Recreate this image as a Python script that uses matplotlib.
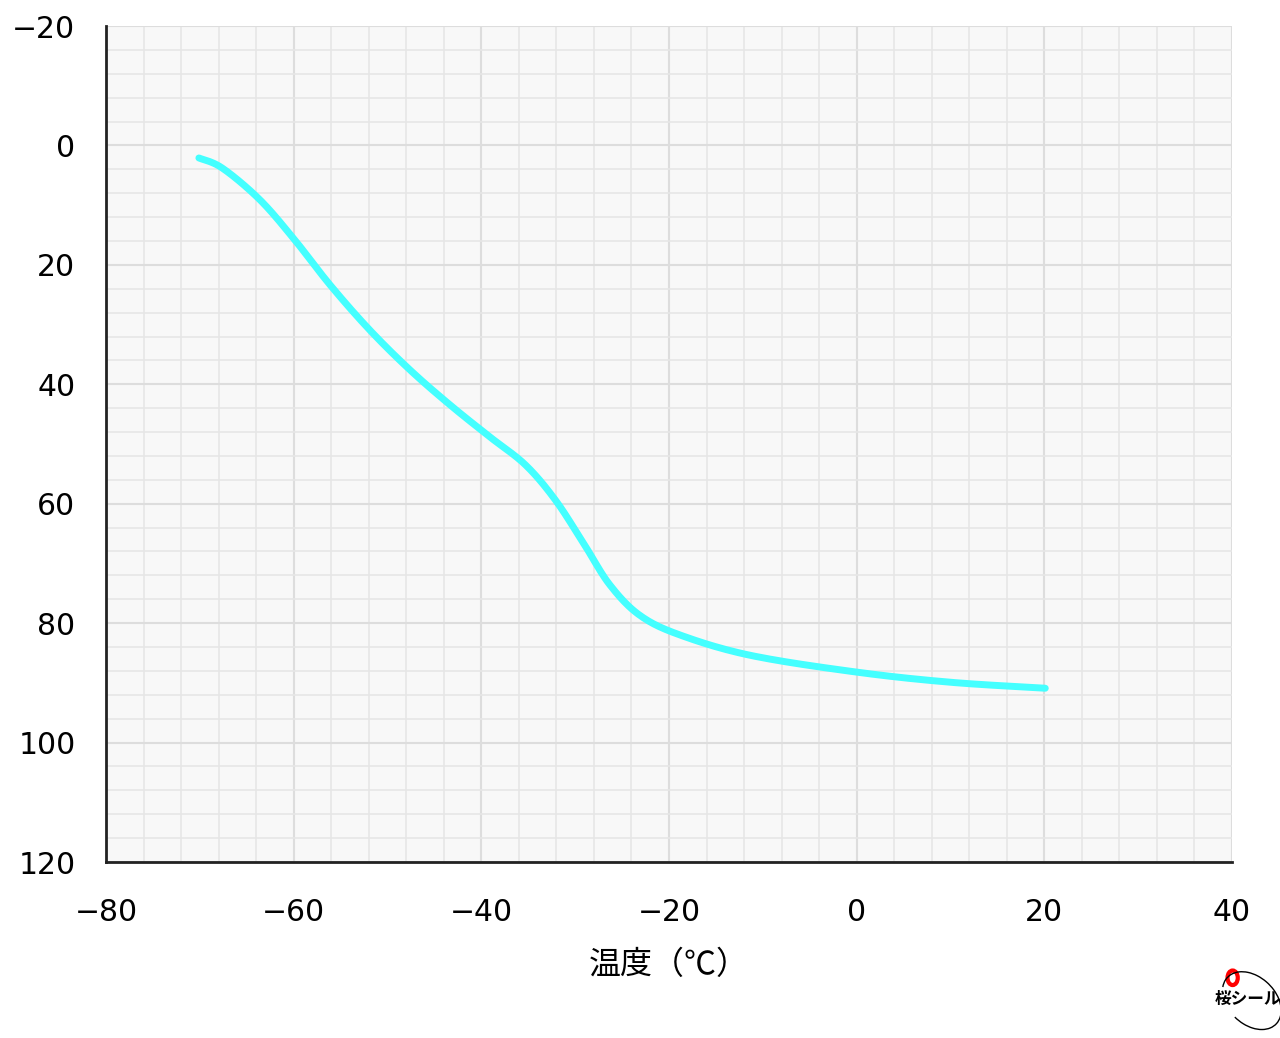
import matplotlib
matplotlib.use("Agg")
import matplotlib.pyplot as plt
from matplotlib.patches import Arc, Ellipse
import numpy as np

temps = [-70.1, -67.6, -63.6, -59.9, -56.1, -51.9, -47.6, -43.3, -39.1, -35.3, -32.1, -29.0, -26.3, -23.1, -18.8, -11.3, 0.0, 10.0, 20.1]
vals = [2.1, 3.8, 9.1, 15.8, 23.4, 30.9, 37.6, 43.5, 48.8, 53.5, 59.4, 66.9, 73.6, 78.7, 82.0, 85.4, 88.2, 89.9, 90.9]
xticks = [-80, -60, -40, -20, 0, 20, 40]
yticks = [-20, 0, 20, 40, 60, 80, 100, 120]

def smooth(x, y, n=20):
    # Catmull-Rom rendering of the read points
    p = np.column_stack([x, y])
    p = np.vstack([p[0], p, p[-1]])
    out = []
    for i in range(1, len(p) - 2):
        p0, p1, p2, p3 = p[i-1], p[i], p[i+1], p[i+2]
        for t in np.linspace(0, 1, n, endpoint=False):
            out.append(0.5 * ((2*p1) + (-p0+p2)*t + (2*p0-5*p1+4*p2-p3)*t**2 + (-p0+3*p1-3*p2+p3)*t**3))
    out.append(p[-2])
    out = np.array(out)
    return out[:, 0], out[:, 1]

plt.rcParams['font.family'] = ['Noto Sans CJK JP', 'DejaVu Sans']
fig = plt.figure(figsize=(12.8, 10.38), dpi=100)
ax = fig.add_axes([106/1280, 1-862/1038, 1126/1280, 836/1038])
ax.set_facecolor('#f8f8f8')
ax.set_xlim(-80, 40)
ax.set_ylim(120, -20)
ax.set_xticks(xticks)
ax.set_yticks(yticks)
ax.set_xticks(np.arange(-80, 41, 4), minor=True)
ax.set_yticks(np.arange(-20, 121, 4), minor=True)
ax.grid(True, which='major', color='#dddddd', lw=1.5)
ax.grid(True, which='minor', color='#e6e6e6', lw=1.2)
ax.set_axisbelow(True)
ax.tick_params(which='both', length=0, labelsize=21.5)
ax.tick_params(axis='x', pad=26)
ax.tick_params(axis='y', pad=22)
ax.set_xticklabels([str(t).replace('-', '\u2212') for t in xticks], family='DejaVu Sans')
ax.set_yticklabels([str(t).replace('-', '\u2212') for t in yticks], family='DejaVu Sans')
for s in ['top', 'right']:
    ax.spines[s].set_visible(False)
for s in ['left', 'bottom']:
    ax.spines[s].set_color('#222222')
    ax.spines[s].set_linewidth(2)
sx, sy = smooth(temps, vals)
ax.plot(sx, sy, color='#44ffff', lw=5, solid_capstyle='round')
ax.set_xlabel('温度（℃）', fontsize=23, labelpad=16)
fig.text(0.975, 0.038, '桜シール', fontsize=12, weight='bold', ha='center', va='center')
fig.patches.append(Ellipse((0.963, 0.058), 0.008, 0.014, transform=fig.transFigure, facecolor='none', edgecolor='red', lw=3))
fig.patches.append(Arc((0.978, 0.036), 0.04, 0.06, angle=30, theta1=200, theta2=120, transform=fig.transFigure, color='black', lw=1))
fig.savefig('out.png', dpi=100)
